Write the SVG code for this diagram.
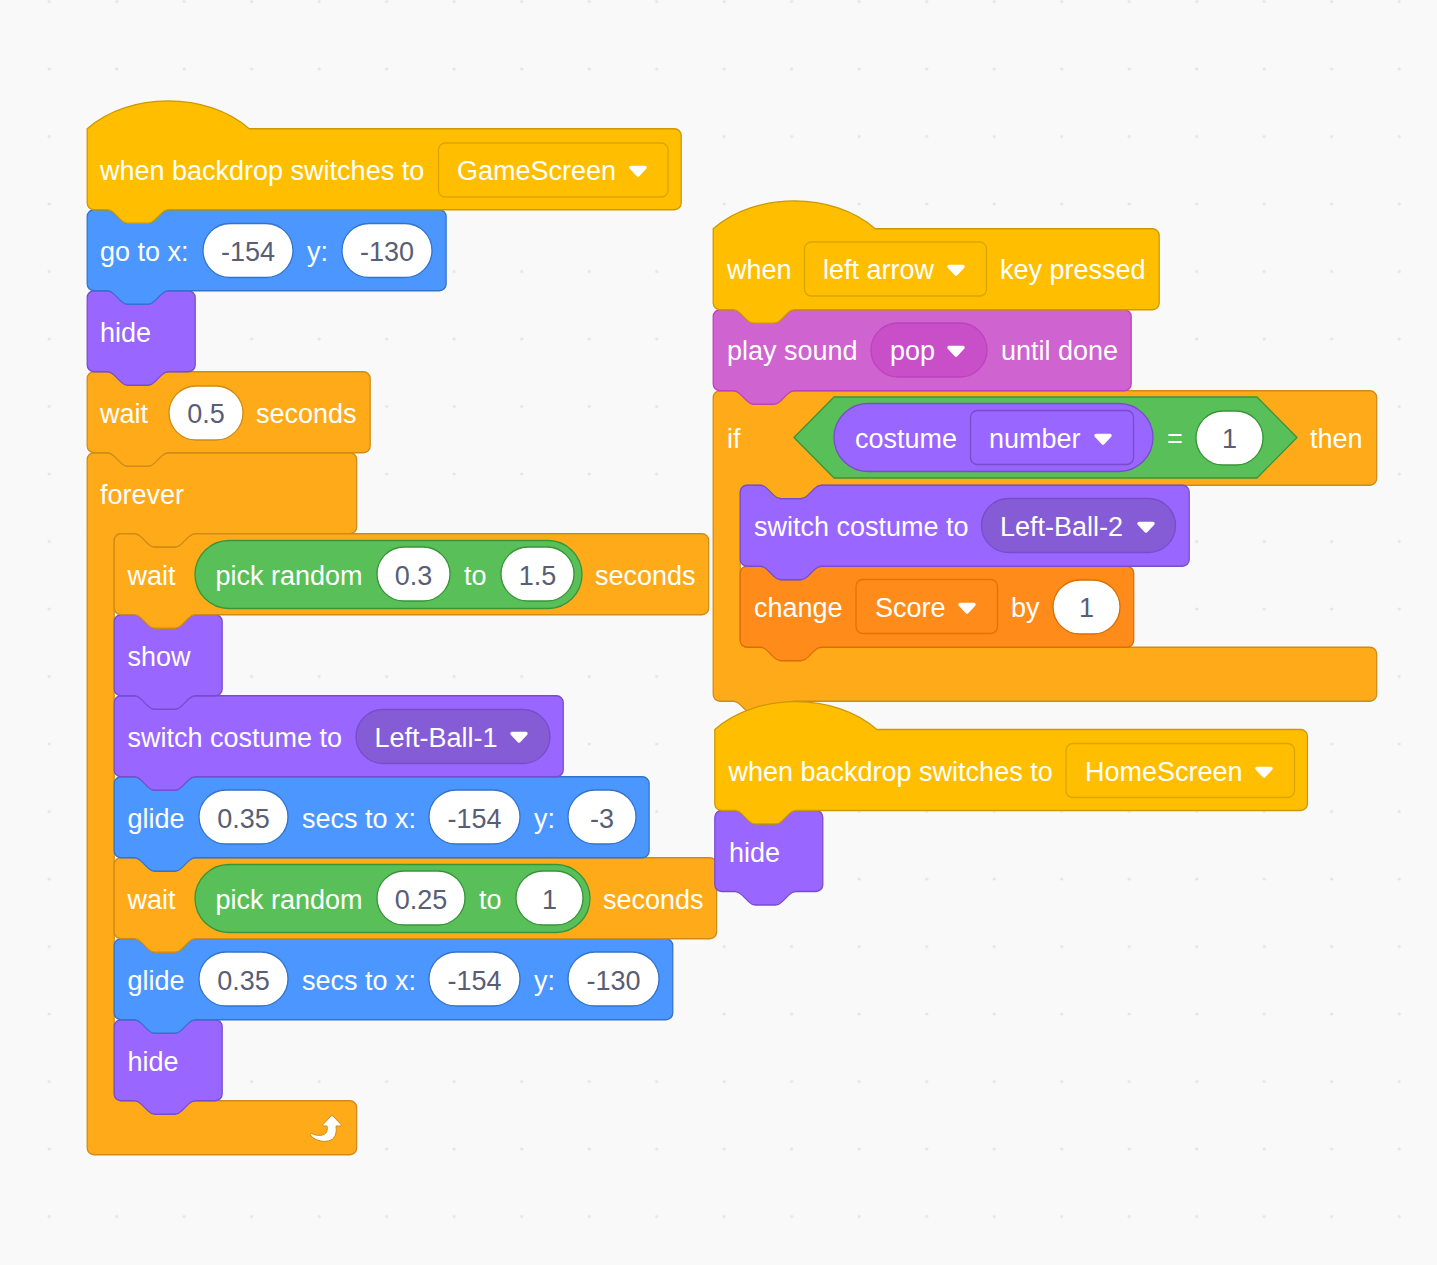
<svg xmlns="http://www.w3.org/2000/svg" width="1437" height="1265" viewBox="0 0 1437 1265">
<style>
text{font-family:"Liberation Sans",Arial,sans-serif;font-size:27px;fill:#fff}
text.v{fill:#575E75;text-anchor:middle}
.b{stroke-width:.75;stroke-linejoin:round}
.ev{fill:#FFBF00;stroke:#CC9900}
.mo{fill:#4C97FF;stroke:#3373CC}
.lo{fill:#9966FF;stroke:#774DCB}
.lod{fill:#855CD6;stroke:#774DCB}
.co{fill:#FFAB19;stroke:#CF8B17}
.op{fill:#59C059;stroke:#389438}
.so{fill:#CF63CF;stroke:#BD42BD}
.sod{fill:#C94FC9;stroke:#BD42BD}
.va{fill:#FF8C1A;stroke:#DB6E00}
.r{stroke-width:1.3}
.evd{fill:#FFBF00;stroke:#DBA500;stroke-width:1.3}
.pm{fill:#fff;stroke:#3373CC;stroke-width:1.3}
.pc{fill:#fff;stroke:#CF8B17;stroke-width:1.3}
.pv{fill:#fff;stroke:#DB6E00;stroke-width:1.3}
.po{fill:#fff;stroke:#389438;stroke-width:1.3}
</style>
<defs>
<pattern id="grid" patternUnits="userSpaceOnUse" x="15.45" y="35.25" width="67.5" height="67.5"><circle cx="33.75" cy="33.75" r="1.6" fill="#E4E4E4"/></pattern>
<path id="arr" d="M-7,-3.5 H7 L0,4 Z" fill="#fff" stroke="#fff" stroke-width="3.4" stroke-linejoin="round"/>
</defs>
<rect width="1437" height="1265" fill="#F9F9F9"/>
<rect width="1437" height="1265" fill="url(#grid)"/>

<g id="forever">
<path class="b co" transform="translate(87.2,452.75) scale(1.6875)" d="M0,4 A4,4 0 0 1 4,0 H12 c2,0 3,1 4,2 l4,4 c1,1 2,2 4,2 h12 c2,0 3,-1 4,-2 l4,-4 c1,-1 2,-2 4,-2 H155.700 a4,4 0 0 1 4,4 V44 a4,4 0 0 1 -4,4 H64 c-2,0 -3,1 -4,2 l-4,4 c-1,1 -2,2 -4,2 h-12 c-2,0 -3,-1 -4,-2 l-4,-4 c-1,-1 -2,-2 -4,-2 H20 a4,4 0 0 0 -4,4 V380 a4,4 0 0 0 4,4 H155.700 a4,4 0 0 1 4,4 V412 a4,4 0 0 1 -4,4 H4 a4,4 0 0 1 -4,-4 z"/>
<text x="100" y="504">forever</text>
<path d="M311.500,1133.500 c5,2.500 11,2.500 14,0 c2,-2 2,-5 1.500,-7.500 h-4 q-1,-1 0,-1.500 l8,-8.500 q1,-1 2,0 l8,8.500 q1,1 0,1.500 h-5 c1,7 -1,12 -5,14 c-6,3 -15,1 -20,-4 q-1,-2 0.500,-2.500 z" fill="#fff" stroke="#CF8B17" stroke-width="1" stroke-linejoin="round"/>
</g>

<g id="hide2">
<path class="b lo" transform="translate(114.2,1019.75) scale(1.6875)" d="M0,4 A4,4 0 0 1 4,0 H12 c2,0 3,1 4,2 l4,4 c1,1 2,2 4,2 h12 c2,0 3,-1 4,-2 l4,-4 c1,-1 2,-2 4,-2 H60 a4,4 0 0 1 4,4 V44 a4,4 0 0 1 -4,4 H48 c-2,0 -3,1 -4,2 l-4,4 c-1,1 -2,2 -4,2 h-12 c-2,0 -3,-1 -4,-2 l-4,-4 c-1,-1 -2,-2 -4,-2 H4 a4,4 0 0 1 -4,-4 z"/>
<text x="127.500" y="1071">hide</text>
</g>

<g id="glide2">
<path class="b mo" transform="translate(114.2,938.75) scale(1.6875)" d="M0,4 A4,4 0 0 1 4,0 H12 c2,0 3,1 4,2 l4,4 c1,1 2,2 4,2 h12 c2,0 3,-1 4,-2 l4,-4 c1,-1 2,-2 4,-2 H327 a4,4 0 0 1 4,4 V44 a4,4 0 0 1 -4,4 H48 c-2,0 -3,1 -4,2 l-4,4 c-1,1 -2,2 -4,2 h-12 c-2,0 -3,-1 -4,-2 l-4,-4 c-1,-1 -2,-2 -4,-2 H4 a4,4 0 0 1 -4,-4 z"/>
<text x="127.500" y="990">glide</text>
<rect class="pm" x="199" y="952" width="89" height="54" rx="27"/><text class="v" x="243.500" y="990">0.35</text>
<text x="302" y="990">secs to x:</text>
<rect class="pm" x="429" y="952" width="91" height="54" rx="27"/><text class="v" x="474.500" y="990">-154</text>
<text x="534" y="990">y:</text>
<rect class="pm" x="568" y="952" width="91" height="54" rx="27"/><text class="v" x="613.500" y="990">-130</text>
</g>

<g id="wait3">
<path class="b co" transform="translate(114.2,857.75) scale(1.6875)" d="M0,4 A4,4 0 0 1 4,0 H12 c2,0 3,1 4,2 l4,4 c1,1 2,2 4,2 h12 c2,0 3,-1 4,-2 l4,-4 c1,-1 2,-2 4,-2 H353 a4,4 0 0 1 4,4 V44 a4,4 0 0 1 -4,4 H48 c-2,0 -3,1 -4,2 l-4,4 c-1,1 -2,2 -4,2 h-12 c-2,0 -3,-1 -4,-2 l-4,-4 c-1,-1 -2,-2 -4,-2 H4 a4,4 0 0 1 -4,-4 z"/>
<text x="127.500" y="909">wait</text>
<rect class="op r" x="195" y="864.500" width="395" height="68" rx="34"/>
<text x="215.500" y="909">pick random</text>
<rect class="po" x="377" y="871" width="88" height="54" rx="27"/><text class="v" x="421" y="909">0.25</text>
<text x="479" y="909">to</text>
<rect class="po" x="516" y="871" width="67" height="54" rx="27"/><text class="v" x="549.500" y="909">1</text>
<text x="603" y="909">seconds</text>
</g>

<g id="glide1">
<path class="b mo" transform="translate(114.2,776.75) scale(1.6875)" d="M0,4 A4,4 0 0 1 4,0 H12 c2,0 3,1 4,2 l4,4 c1,1 2,2 4,2 h12 c2,0 3,-1 4,-2 l4,-4 c1,-1 2,-2 4,-2 H313 a4,4 0 0 1 4,4 V44 a4,4 0 0 1 -4,4 H48 c-2,0 -3,1 -4,2 l-4,4 c-1,1 -2,2 -4,2 h-12 c-2,0 -3,-1 -4,-2 l-4,-4 c-1,-1 -2,-2 -4,-2 H4 a4,4 0 0 1 -4,-4 z"/>
<text x="127.500" y="828">glide</text>
<rect class="pm" x="199" y="790" width="89" height="54" rx="27"/><text class="v" x="243.500" y="828">0.35</text>
<text x="302" y="828">secs to x:</text>
<rect class="pm" x="429" y="790" width="91" height="54" rx="27"/><text class="v" x="474.500" y="828">-154</text>
<text x="534" y="828">y:</text>
<rect class="pm" x="568" y="790" width="68" height="54" rx="27"/><text class="v" x="602" y="828">-3</text>
</g>

<g id="switch1">
<path class="b lo" transform="translate(114.2,695.75) scale(1.6875)" d="M0,4 A4,4 0 0 1 4,0 H12 c2,0 3,1 4,2 l4,4 c1,1 2,2 4,2 h12 c2,0 3,-1 4,-2 l4,-4 c1,-1 2,-2 4,-2 H262.100 a4,4 0 0 1 4,4 V44 a4,4 0 0 1 -4,4 H48 c-2,0 -3,1 -4,2 l-4,4 c-1,1 -2,2 -4,2 h-12 c-2,0 -3,-1 -4,-2 l-4,-4 c-1,-1 -2,-2 -4,-2 H4 a4,4 0 0 1 -4,-4 z"/>
<text x="127.500" y="747">switch costume to</text>
<rect class="lod r" x="356" y="709.500" width="194" height="54" rx="27"/>
<text x="374.500" y="747">Left-Ball-1</text>
<use href="#arr" x="519" y="737"/>
</g>

<g id="show">
<path class="b lo" transform="translate(114.2,614.75) scale(1.6875)" d="M0,4 A4,4 0 0 1 4,0 H12 c2,0 3,1 4,2 l4,4 c1,1 2,2 4,2 h12 c2,0 3,-1 4,-2 l4,-4 c1,-1 2,-2 4,-2 H60 a4,4 0 0 1 4,4 V44 a4,4 0 0 1 -4,4 H48 c-2,0 -3,1 -4,2 l-4,4 c-1,1 -2,2 -4,2 h-12 c-2,0 -3,-1 -4,-2 l-4,-4 c-1,-1 -2,-2 -4,-2 H4 a4,4 0 0 1 -4,-4 z"/>
<text x="127.500" y="666">show</text>
</g>

<g id="wait2">
<path class="b co" transform="translate(114.2,533.75) scale(1.6875)" d="M0,4 A4,4 0 0 1 4,0 H12 c2,0 3,1 4,2 l4,4 c1,1 2,2 4,2 h12 c2,0 3,-1 4,-2 l4,-4 c1,-1 2,-2 4,-2 H348.300 a4,4 0 0 1 4,4 V44 a4,4 0 0 1 -4,4 H48 c-2,0 -3,1 -4,2 l-4,4 c-1,1 -2,2 -4,2 h-12 c-2,0 -3,-1 -4,-2 l-4,-4 c-1,-1 -2,-2 -4,-2 H4 a4,4 0 0 1 -4,-4 z"/>
<text x="127.500" y="585">wait</text>
<rect class="op r" x="195" y="540.500" width="387" height="68" rx="34"/>
<text x="215.500" y="585">pick random</text>
<rect class="po" x="377" y="547" width="73" height="54" rx="27"/><text class="v" x="413.500" y="585">0.3</text>
<text x="464" y="585">to</text>
<rect class="po" x="501" y="547" width="73" height="54" rx="27"/><text class="v" x="537.500" y="585">1.5</text>
<text x="595" y="585">seconds</text>
</g>

<g id="wait1">
<path class="b co" transform="translate(87.2,371.75) scale(1.6875)" d="M0,4 A4,4 0 0 1 4,0 H12 c2,0 3,1 4,2 l4,4 c1,1 2,2 4,2 h12 c2,0 3,-1 4,-2 l4,-4 c1,-1 2,-2 4,-2 H163.700 a4,4 0 0 1 4,4 V44 a4,4 0 0 1 -4,4 H48 c-2,0 -3,1 -4,2 l-4,4 c-1,1 -2,2 -4,2 h-12 c-2,0 -3,-1 -4,-2 l-4,-4 c-1,-1 -2,-2 -4,-2 H4 a4,4 0 0 1 -4,-4 z"/>
<text x="100" y="423">wait</text>
<rect class="pc" x="169" y="386" width="74" height="54" rx="27"/><text class="v" x="206" y="423">0.5</text>
<text x="256" y="423">seconds</text>
</g>

<g id="hide1">
<path class="b lo" transform="translate(87.2,290.75) scale(1.6875)" d="M0,4 A4,4 0 0 1 4,0 H12 c2,0 3,1 4,2 l4,4 c1,1 2,2 4,2 h12 c2,0 3,-1 4,-2 l4,-4 c1,-1 2,-2 4,-2 H60 a4,4 0 0 1 4,4 V44 a4,4 0 0 1 -4,4 H48 c-2,0 -3,1 -4,2 l-4,4 c-1,1 -2,2 -4,2 h-12 c-2,0 -3,-1 -4,-2 l-4,-4 c-1,-1 -2,-2 -4,-2 H4 a4,4 0 0 1 -4,-4 z"/>
<text x="100" y="342">hide</text>
</g>

<g id="goto">
<path class="b mo" transform="translate(87.2,209.75) scale(1.6875)" d="M0,4 A4,4 0 0 1 4,0 H12 c2,0 3,1 4,2 l4,4 c1,1 2,2 4,2 h12 c2,0 3,-1 4,-2 l4,-4 c1,-1 2,-2 4,-2 H208.700 a4,4 0 0 1 4,4 V44 a4,4 0 0 1 -4,4 H48 c-2,0 -3,1 -4,2 l-4,4 c-1,1 -2,2 -4,2 h-12 c-2,0 -3,-1 -4,-2 l-4,-4 c-1,-1 -2,-2 -4,-2 H4 a4,4 0 0 1 -4,-4 z"/>
<text x="100" y="261">go to x:</text>
<rect class="pm" x="203" y="223.500" width="90" height="54" rx="27"/><text class="v" x="248" y="261">-154</text>
<text x="307" y="261">y:</text>
<rect class="pm" x="342" y="223.500" width="90" height="54" rx="27"/><text class="v" x="387" y="261">-130</text>
</g>

<g id="hat1">
<path class="b ev" transform="translate(87.2,128.75) scale(1.6875)" d="M0,0 c25,-22 71,-22 96,0 H348 a4,4 0 0 1 4,4 V44 a4,4 0 0 1 -4,4 H48 c-2,0 -3,1 -4,2 l-4,4 c-1,1 -2,2 -4,2 h-12 c-2,0 -3,-1 -4,-2 l-4,-4 c-1,-1 -2,-2 -4,-2 H4 a4,4 0 0 1 -4,-4 z"/>
<text x="100" y="180">when backdrop switches to</text>
<rect class="evd" x="438.500" y="143" width="229.500" height="54" rx="6.750"/>
<text x="457" y="180">GameScreen</text>
<use href="#arr" x="638" y="171"/>
</g>

<g id="if">
<path class="b co" transform="translate(713.2,390.75) scale(1.6875)" d="M0,4 A4,4 0 0 1 4,0 H12 c2,0 3,1 4,2 l4,4 c1,1 2,2 4,2 h12 c2,0 3,-1 4,-2 l4,-4 c1,-1 2,-2 4,-2 H389.200 a4,4 0 0 1 4,4 V52 a4,4 0 0 1 -4,4 H64 c-2,0 -3,1 -4,2 l-4,4 c-1,1 -2,2 -4,2 h-12 c-2,0 -3,-1 -4,-2 l-4,-4 c-1,-1 -2,-2 -4,-2 H20 a4,4 0 0 0 -4,4 V148 a4,4 0 0 0 4,4 H389.200 a4,4 0 0 1 4,4 V180 a4,4 0 0 1 -4,4 H48 c-2,0 -3,1 -4,2 l-4,4 c-1,1 -2,2 -4,2 h-12 c-2,0 -3,-1 -4,-2 l-4,-4 c-1,-1 -2,-2 -4,-2 H4 a4,4 0 0 1 -4,-4 z"/>
<text x="727" y="447.500">if</text>
<path class="op r" d="M834,397 H1257 L1297,437.500 L1257,478 H834 L794,437.500 Z" stroke-linejoin="round"/>
<rect class="lo r" x="834" y="403.500" width="319" height="68" rx="34"/>
<text x="855" y="447.500">costume</text>
<rect class="lo r" x="970.500" y="410.500" width="163" height="54" rx="6.750"/>
<text x="989" y="447.500">number</text>
<use href="#arr" x="1103" y="439"/>
<text x="1167" y="447.500">=</text>
<rect class="po" x="1196" y="411" width="67" height="54" rx="27"/><text class="v" x="1229.500" y="447.500">1</text>
<text x="1310" y="447.500">then</text>
</g>

<g id="change">
<path class="b va" transform="translate(740.2,566.25) scale(1.6875)" d="M0,4 A4,4 0 0 1 4,0 H12 c2,0 3,1 4,2 l4,4 c1,1 2,2 4,2 h12 c2,0 3,-1 4,-2 l4,-4 c1,-1 2,-2 4,-2 H229.200 a4,4 0 0 1 4,4 V44 a4,4 0 0 1 -4,4 H48 c-2,0 -3,1 -4,2 l-4,4 c-1,1 -2,2 -4,2 h-12 c-2,0 -3,-1 -4,-2 l-4,-4 c-1,-1 -2,-2 -4,-2 H4 a4,4 0 0 1 -4,-4 z"/>
<text x="754" y="617">change</text>
<rect class="va r" x="856" y="579.500" width="141.500" height="54" rx="6.750" stroke-opacity=".8"/>
<text x="875" y="617">Score</text>
<use href="#arr" x="967" y="608"/>
<text x="1011" y="617">by</text>
<rect class="pv" x="1053" y="580" width="67" height="54" rx="27"/><text class="v" x="1086.500" y="616.500">1</text>
</g>

<g id="switch2">
<path class="b lo" transform="translate(740.2,485.25) scale(1.6875)" d="M0,4 A4,4 0 0 1 4,0 H12 c2,0 3,1 4,2 l4,4 c1,1 2,2 4,2 h12 c2,0 3,-1 4,-2 l4,-4 c1,-1 2,-2 4,-2 H262.100 a4,4 0 0 1 4,4 V44 a4,4 0 0 1 -4,4 H48 c-2,0 -3,1 -4,2 l-4,4 c-1,1 -2,2 -4,2 h-12 c-2,0 -3,-1 -4,-2 l-4,-4 c-1,-1 -2,-2 -4,-2 H4 a4,4 0 0 1 -4,-4 z"/>
<text x="754" y="536">switch costume to</text>
<rect class="lod r" x="981.500" y="498.500" width="194" height="54" rx="27"/>
<text x="1000" y="536">Left-Ball-2</text>
<use href="#arr" x="1146" y="527"/>
</g>

<g id="play">
<path class="b so" transform="translate(713.2,309.75) scale(1.6875)" d="M0,4 A4,4 0 0 1 4,0 H12 c2,0 3,1 4,2 l4,4 c1,1 2,2 4,2 h12 c2,0 3,-1 4,-2 l4,-4 c1,-1 2,-2 4,-2 H243.700 a4,4 0 0 1 4,4 V44 a4,4 0 0 1 -4,4 H48 c-2,0 -3,1 -4,2 l-4,4 c-1,1 -2,2 -4,2 h-12 c-2,0 -3,-1 -4,-2 l-4,-4 c-1,-1 -2,-2 -4,-2 H4 a4,4 0 0 1 -4,-4 z"/>
<text x="727" y="360">play sound</text>
<rect class="sod r" x="871" y="323" width="116" height="54" rx="27"/>
<text x="890" y="360">pop</text>
<use href="#arr" x="956" y="351"/>
<text x="1001" y="360">until done</text>
</g>

<g id="hat2">
<path class="b ev" transform="translate(713.2,228.75) scale(1.6875)" d="M0,0 c25,-22 71,-22 96,0 H260.300 a4,4 0 0 1 4,4 V44 a4,4 0 0 1 -4,4 H48 c-2,0 -3,1 -4,2 l-4,4 c-1,1 -2,2 -4,2 h-12 c-2,0 -3,-1 -4,-2 l-4,-4 c-1,-1 -2,-2 -4,-2 H4 a4,4 0 0 1 -4,-4 z"/>
<text x="727" y="279">when</text>
<rect class="evd" x="804.500" y="242" width="182" height="54" rx="6.750"/>
<text x="823" y="279">left arrow</text>
<use href="#arr" x="956" y="270"/>
<text x="1000" y="279">key pressed</text>
</g>

<g id="hide3">
<path class="b lo" transform="translate(714.8,810.5) scale(1.6875)" d="M0,4 A4,4 0 0 1 4,0 H12 c2,0 3,1 4,2 l4,4 c1,1 2,2 4,2 h12 c2,0 3,-1 4,-2 l4,-4 c1,-1 2,-2 4,-2 H60 a4,4 0 0 1 4,4 V44 a4,4 0 0 1 -4,4 H48 c-2,0 -3,1 -4,2 l-4,4 c-1,1 -2,2 -4,2 h-12 c-2,0 -3,-1 -4,-2 l-4,-4 c-1,-1 -2,-2 -4,-2 H4 a4,4 0 0 1 -4,-4 z"/>
<text x="729" y="862">hide</text>
</g>

<g id="hat3">
<path class="b ev" transform="translate(714.8,729.5) scale(1.6875)" d="M0,0 c25,-22 71,-22 96,0 H347.200 a4,4 0 0 1 4,4 V44 a4,4 0 0 1 -4,4 H48 c-2,0 -3,1 -4,2 l-4,4 c-1,1 -2,2 -4,2 h-12 c-2,0 -3,-1 -4,-2 l-4,-4 c-1,-1 -2,-2 -4,-2 H4 a4,4 0 0 1 -4,-4 z"/>
<text x="728.500" y="781">when backdrop switches to</text>
<rect class="evd" x="1066" y="743.500" width="228.500" height="54" rx="6.750"/>
<text x="1085" y="781">HomeScreen</text>
<use href="#arr" x="1264" y="772"/>
</g>
</svg>
